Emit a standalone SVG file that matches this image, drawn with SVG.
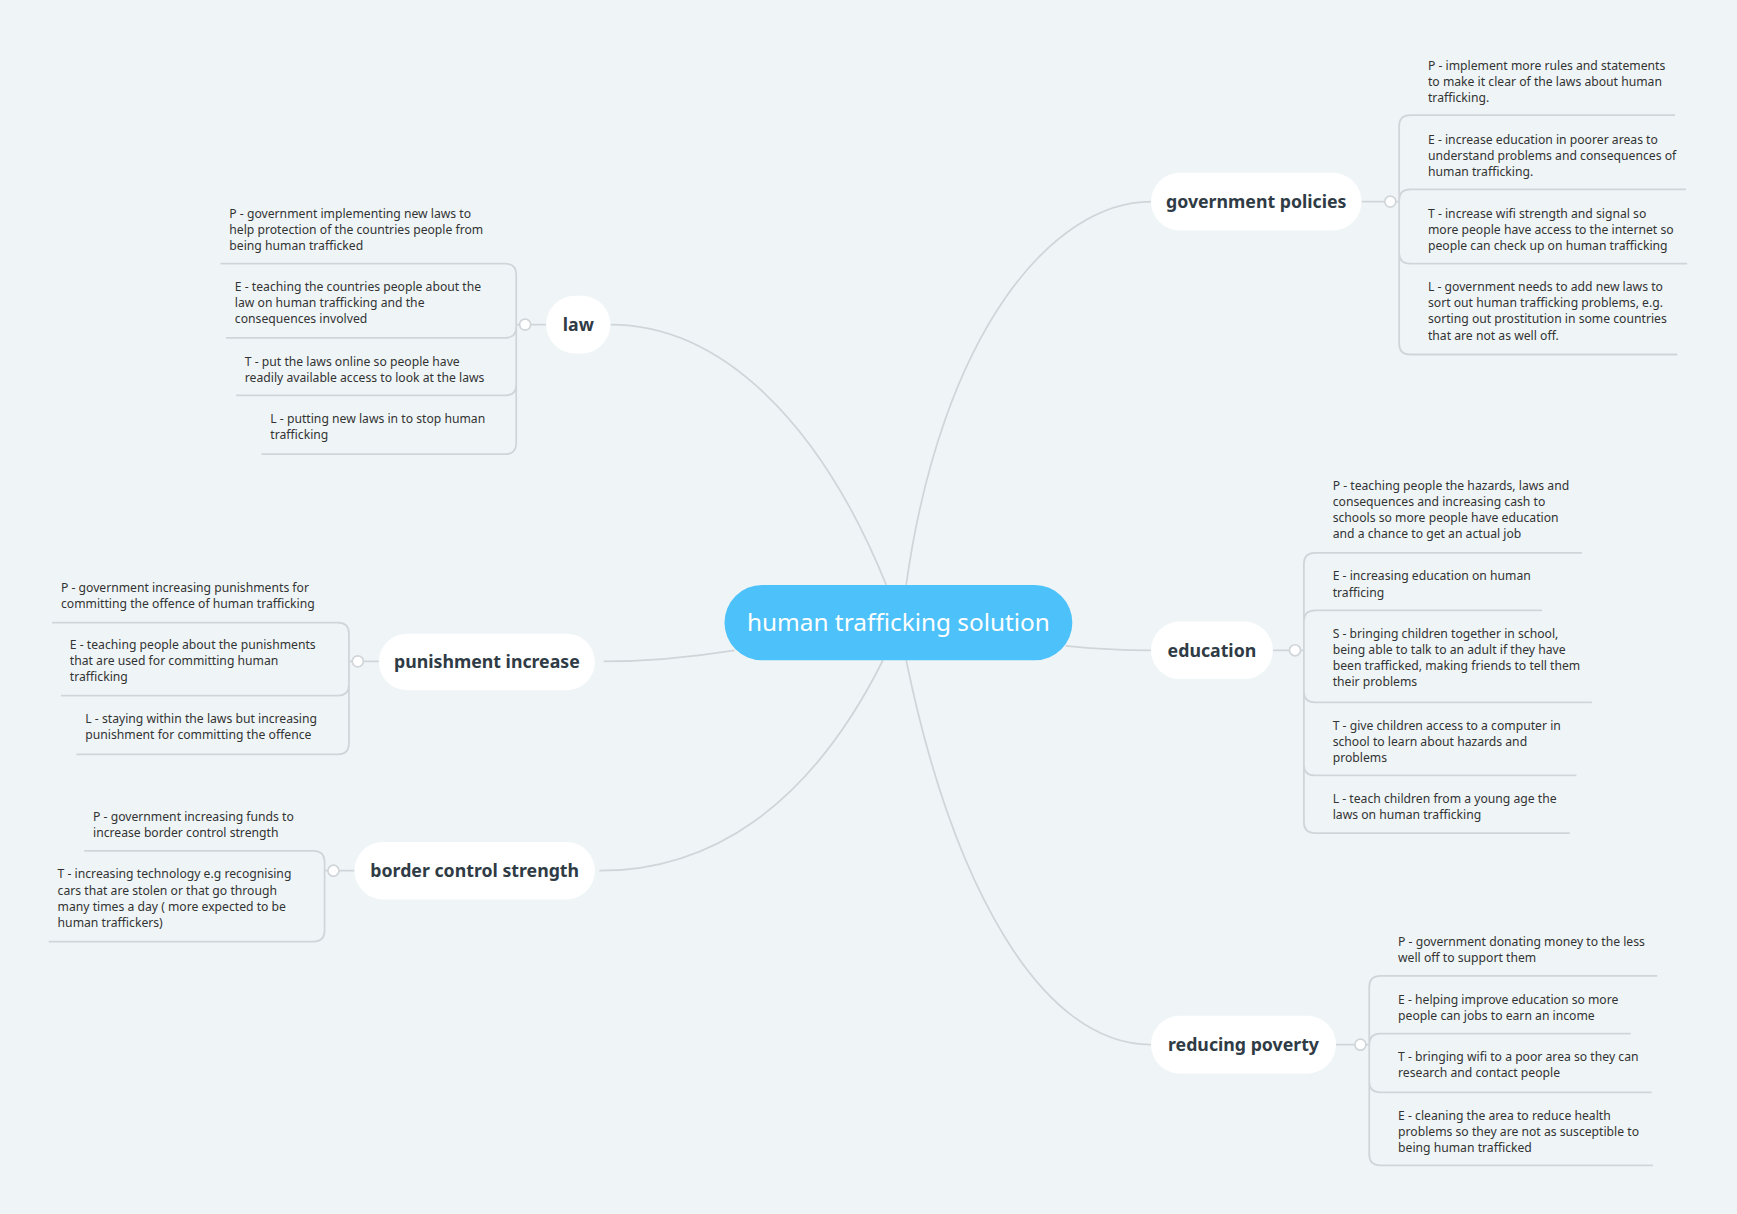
<svg xmlns="http://www.w3.org/2000/svg" width="1737" height="1214" viewBox="0 0 1737 1214">
<style>
.c{fill:none;stroke:#d0d5d9;stroke-width:1.6}
.n{fill:#fff}
.b{font-family:"Noto Sans",sans-serif;font-weight:bold;font-size:16px;fill:#2f3b45;text-anchor:middle}
.t{font-family:"Noto Sans",sans-serif;font-size:11px;fill:#333}
.k{fill:#fff;stroke:#d0d5d9;stroke-width:1.5}
</style>
<rect width="1737" height="1214" fill="#eff5f7"/>
<g transform="scale(1.1078)">
<g id="connectors">
<path class="c" d="M818,528 C850,300 950,182 1039,182"/>
<path class="c" d="M800,528 C740,380 650,293 551,293"/>
<path class="c" d="M663,587 Q600,597 545,597"/>
<path class="c" d="M797,596 C730,730 640,786 541,786"/>
<path class="c" d="M962,583 Q1000,587 1039,587"/>
<path class="c" d="M818,596 C860,800 940,943 1039,943"/>
<path class="c" d="M1229,182 H1250 M1255,182 H1263 V114 Q1263,104 1273,104 H1512 M1263,182 V181 Q1263,171 1273,171 H1522 M1263,182 V228 Q1263,238 1273,238 H1523 M1263,182 V310 Q1263,320 1273,320 H1514"/>
<path class="c" d="M493,293 H479 M474,293 H466 V248 Q466,238 456,238 H199 M466,293 V295 Q466,305 456,305 H204 M466,293 V347 Q466,357 456,357 H213 M466,293 V400 Q466,410 456,410 H236"/>
<path class="c" d="M342,597 H328 M323,597 H315 V572 Q315,562 305,562 H47 M315,597 V618 Q315,628 305,628 H55 M315,597 V671 Q315,681 305,681 H69"/>
<path class="c" d="M320,786 H306 M301,786 H293 V778 Q293,768 283,768 H76 M293,786 V840 Q293,850 283,850 H44"/>
<path class="c" d="M1149,587 H1164 M1169,587 H1177 V509 Q1177,499 1187,499 H1428 M1177,587 V561 Q1177,551 1187,551 H1392 M1177,587 V624 Q1177,634 1187,634 H1437 M1177,587 V690 Q1177,700 1187,700 H1423 M1177,587 V742 Q1177,752 1187,752 H1417"/>
<path class="c" d="M1206,943 H1223 M1228,943 H1236 V891 Q1236,881 1246,881 H1496 M1236,943 Q1236,933 1246,933 H1472 M1236,943 V976 Q1236,986 1246,986 H1491 M1236,943 V1042 Q1236,1052 1246,1052 H1492"/>
<circle class="k" cx="1255" cy="182" r="5"/><circle class="k" cx="474" cy="293" r="5"/><circle class="k" cx="323" cy="597" r="5"/><circle class="k" cx="301" cy="786" r="5"/><circle class="k" cx="1169" cy="587" r="5"/><circle class="k" cx="1228" cy="943" r="5"/>
</g>
<g id="center"><rect x="654" y="528" width="314" height="68" rx="34" fill="#4dc1f9"/><text x="811" y="570" font-family="Noto Sans,sans-serif" font-size="22" fill="#fff" text-anchor="middle">human trafficking solution</text></g>
<g id="gov"><rect class="n" x="1039" y="156" width="190" height="52" rx="26"/><text class="b" x="1134" y="188">government policies</text>
<text class="t" x="1289"><tspan x="1289" y="63">P - implement more rules and statements</tspan><tspan x="1289" y="77.5">to make it clear of the laws about human</tspan><tspan x="1289" y="92">trafficking.</tspan></text>
<text class="t"><tspan x="1289" y="130">E - increase education in poorer areas to</tspan><tspan x="1289" y="144.5">understand problems and consequences of</tspan><tspan x="1289" y="159">human trafficking.</tspan></text>
<text class="t"><tspan x="1289" y="197">T - increase wifi strength and signal so</tspan><tspan x="1289" y="211.5">more people have access to the internet so</tspan><tspan x="1289" y="226">people can check up on human trafficking</tspan></text>
<text class="t"><tspan x="1289" y="263">L - government needs to add new laws to</tspan><tspan x="1289" y="277.5">sort out human trafficking problems, e.g.</tspan><tspan x="1289" y="292">sorting out prostitution in some countries</tspan><tspan x="1289" y="306.5">that are not as well off.</tspan></text></g>
<g id="law"><rect class="n" x="493" y="267" width="58" height="52" rx="26"/><text class="b" x="522" y="299">law</text>
<text class="t"><tspan x="207" y="197">P - government implementing new laws to</tspan><tspan x="207" y="211.5">help protection of the countries people from</tspan><tspan x="207" y="226">being human trafficked</tspan></text>
<text class="t"><tspan x="212" y="263">E - teaching the countries people about the</tspan><tspan x="212" y="277.5">law on human trafficking and the</tspan><tspan x="212" y="292">consequences involved</tspan></text>
<text class="t"><tspan x="221" y="330">T - put the laws online so people have</tspan><tspan x="221" y="344.5">readily available access to look at the laws</tspan></text>
<text class="t"><tspan x="244" y="382">L - putting new laws in to stop human</tspan><tspan x="244" y="396.5">trafficking</tspan></text></g>
<g id="punish"><rect class="n" x="342" y="572" width="195" height="51" rx="25.5"/><text class="b" x="439.5" y="603">punishment increase</text>
<text class="t"><tspan x="55" y="534">P - government increasing punishments for</tspan><tspan x="55" y="548.5">committing the offence of human trafficking</tspan></text>
<text class="t"><tspan x="63" y="586">E - teaching people about the punishments</tspan><tspan x="63" y="600.5">that are used for committing human</tspan><tspan x="63" y="615">trafficking</tspan></text>
<text class="t"><tspan x="77" y="653">L - staying within the laws but increasing</tspan><tspan x="77" y="667.5">punishment for committing the offence</tspan></text></g>
<g id="border"><rect class="n" x="320" y="760" width="217" height="52" rx="26"/><text class="b" x="428.5" y="792">border control strength</text>
<text class="t"><tspan x="84" y="741">P - government increasing funds to</tspan><tspan x="84" y="755.5">increase border control strength</tspan></text>
<text class="t"><tspan x="52" y="793">T - increasing technology e.g recognising</tspan><tspan x="52" y="807.5">cars that are stolen or that go through</tspan><tspan x="52" y="822">many times a day ( more expected to be</tspan><tspan x="52" y="836.5">human traffickers)</tspan></text></g>
<g id="education"><rect class="n" x="1039" y="561" width="110" height="52" rx="26"/><text class="b" x="1094" y="593">education</text>
<text class="t"><tspan x="1203" y="442">P - teaching people the hazards, laws and</tspan><tspan x="1203" y="456.5">consequences and increasing cash to</tspan><tspan x="1203" y="471">schools so more people have education</tspan><tspan x="1203" y="485.5">and a chance to get an actual job</tspan></text>
<text class="t"><tspan x="1203" y="524">E - increasing education on human</tspan><tspan x="1203" y="538.5">trafficing</tspan></text>
<text class="t"><tspan x="1203" y="576">S - bringing children together in school,</tspan><tspan x="1203" y="590.5">being able to talk to an adult if they have</tspan><tspan x="1203" y="605">been trafficked, making friends to tell them</tspan><tspan x="1203" y="619.5">their problems</tspan></text>
<text class="t"><tspan x="1203" y="659">T - give children access to a computer in</tspan><tspan x="1203" y="673.5">school to learn about hazards and</tspan><tspan x="1203" y="688">problems</tspan></text>
<text class="t"><tspan x="1203" y="725">L - teach children from a young age the</tspan><tspan x="1203" y="739.5">laws on human trafficking</tspan></text></g>
<g id="poverty"><rect class="n" x="1039" y="917" width="167" height="52" rx="26"/><text class="b" x="1122.5" y="949">reducing poverty</text>
<text class="t"><tspan x="1262" y="854">P - government donating money to the less</tspan><tspan x="1262" y="868.5">well off to support them</tspan></text>
<text class="t"><tspan x="1262" y="906">E - helping improve education so more</tspan><tspan x="1262" y="920.5">people can jobs to earn an income</tspan></text>
<text class="t"><tspan x="1262" y="958">T - bringing wifi to a poor area so they can</tspan><tspan x="1262" y="972.5">research and contact people</tspan></text>
<text class="t"><tspan x="1262" y="1011">E - cleaning the area to reduce health</tspan><tspan x="1262" y="1025.5">problems so they are not as susceptible to</tspan><tspan x="1262" y="1040">being human trafficked</tspan></text></g>
</g>
</svg>
